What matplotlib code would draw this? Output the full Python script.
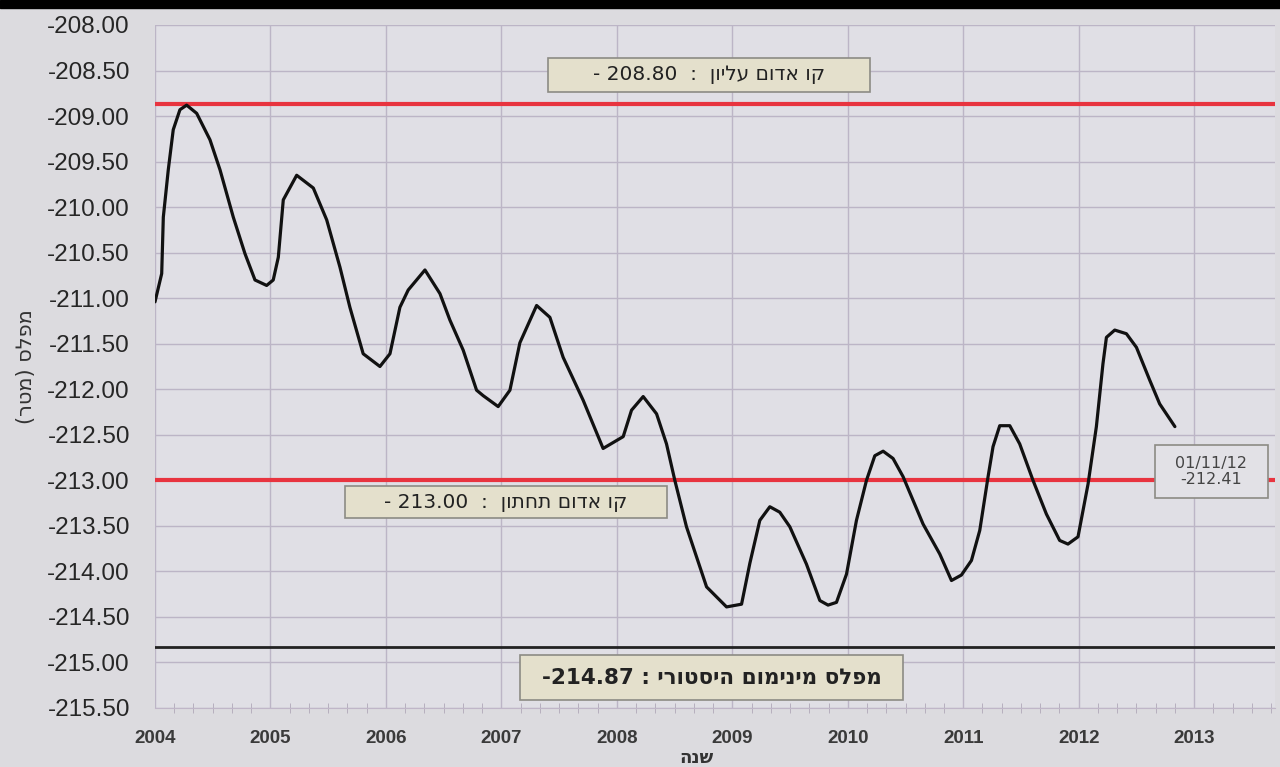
import numpy as np
import matplotlib
matplotlib.use('Agg')
import matplotlib.pyplot as plt
from matplotlib.patches import Rectangle
from matplotlib.ticker import MultipleLocator, FormatStrFormatter

# Kinneret level readings (decimal year, metres)
years = [2004.000, 2004.058, 2004.072, 2004.115, 2004.158, 2004.216, 2004.274,
         2004.361, 2004.476, 2004.563, 2004.678, 2004.779, 2004.866, 2004.967,
         2005.024, 2005.068, 2005.111, 2005.227, 2005.371, 2005.487, 2005.602,
         2005.688, 2005.803, 2005.948, 2006.035, 2006.121, 2006.193, 2006.338,
         2006.468, 2006.554, 2006.669, 2006.785, 2006.842, 2006.972, 2007.074,
         2007.160, 2007.305, 2007.420, 2007.535, 2007.708, 2007.881, 2008.055,
         2008.127, 2008.228, 2008.344, 2008.430, 2008.502, 2008.603, 2008.777,
         2008.950, 2009.080, 2009.152, 2009.238, 2009.325, 2009.411, 2009.498,
         2009.642, 2009.758, 2009.829, 2009.902, 2009.989, 2010.075, 2010.162,
         2010.234, 2010.306, 2010.392, 2010.479, 2010.652, 2010.797, 2010.898,
         2010.984, 2011.071, 2011.143, 2011.215, 2011.258, 2011.316, 2011.403,
         2011.489, 2011.604, 2011.720, 2011.835, 2011.907, 2011.994, 2012.081,
         2012.153, 2012.210, 2012.240, 2012.312, 2012.413, 2012.500, 2012.615,
         2012.701, 2012.833]
levels = [-211.04, -210.73, -210.11, -209.59, -209.15, -208.93, -208.88,
          -208.97, -209.26, -209.59, -210.11, -210.51, -210.80, -210.86,
          -210.80, -210.55, -209.92, -209.65, -209.79, -210.14, -210.66,
          -211.10, -211.61, -211.75, -211.61, -211.10, -210.91, -210.69,
          -210.95, -211.24, -211.57, -212.01, -212.07, -212.19, -212.01,
          -211.49, -211.08, -211.21, -211.65, -212.12, -212.65, -212.52,
          -212.23, -212.08, -212.27, -212.60, -213.00, -213.51, -214.17,
          -214.39, -214.36, -213.91, -213.44, -213.29, -213.35, -213.51,
          -213.92, -214.32, -214.37, -214.34, -214.03, -213.44, -213.00,
          -212.73, -212.68, -212.76, -212.96, -213.48, -213.81, -214.10,
          -214.04, -213.88, -213.55, -212.96, -212.63, -212.40, -212.40,
          -212.60, -213.00, -213.37, -213.66, -213.70, -213.62, -213.04,
          -212.41, -211.72, -211.43, -211.35, -211.39, -211.54, -211.90,
          -212.16, -212.41]

upper_red = -208.87
lower_red = -213.00
hist_min = -214.83

upper_text = 'קו אדום עליון'
upper_val = '- 208.80'
lower_text = 'קו אדום תחתון'
lower_val = '- 213.00'
min_text = 'מפלס מינימום היסטורי'
min_val = '-214.87'
last_date = '01/11/12'
last_val = '-212.41'
ylabel = 'מפלס (מטר)'
xlabel = 'שנה'

year_ticks = list(range(2004, 2014))


def rtl(s):
  # matplotlib has no bidi: flip to visual order, mirror brackets
  return s[::-1].translate(str.maketrans('()', ')('))


plt.rcParams['font.family'] = ['Liberation Sans', 'DejaVu Sans']
wide = ['DejaVu Sans']

fig = plt.figure(figsize=(12.8, 7.67), dpi=100)
fig.patch.set_facecolor('#dcdbdf')
fig.patches.append(Rectangle((0, 1 - 8/767.), 1, 8/767., transform=fig.transFigure,
                             color='black', zorder=10))

W, H = 1280., 767.
ax = fig.add_axes([155/W, 1 - 708/H, 1120/W, 683/H])
ax.set_facecolor('#e0dfe5')

ax.plot(years, levels, '-', color='#111111', lw=2.3, zorder=4,
        solid_joinstyle='round', solid_capstyle='round')
ax.axhline(upper_red, color='#e8343f', lw=3, zorder=3)
ax.axhline(lower_red, color='#e8343f', lw=3, zorder=3)
ax.axhline(hist_min, color='#222222', lw=2, zorder=3)

ax.set_xlim(2004, 2013.7)
ax.set_ylim(-215.5, -208)
ax.set_xticks(year_ticks)
ax.xaxis.set_minor_locator(MultipleLocator(1/6.))
ax.yaxis.set_major_locator(MultipleLocator(0.5))
ax.yaxis.set_major_formatter(FormatStrFormatter('%.2f'))
ax.grid(True, which='major', color='#bcb5c6', lw=1)

for s in ['top', 'right', 'left']:
  ax.spines[s].set_visible(False)
ax.spines['bottom'].set_color('#c0b6c8')

ax.tick_params(axis='y', length=0, pad=18, labelsize=17.5, labelcolor='#262626')
ax.tick_params(axis='x', which='major', length=0, pad=16, labelsize=13.5,
               labelcolor='#3a3a3a')
ax.tick_params(axis='x', which='minor', direction='inout', length=7,
               color='#b0a8b8')
for lab in ax.get_xticklabels():
  lab.set_fontweight('bold')

ax.set_ylabel(rtl(ylabel), fontsize=15, color='#333333', labelpad=8,
              family=wide)
fig.text(696/W, 1 - 758/H, rtl(xlabel), fontsize=13, fontweight='bold',
         color='#333333', ha='center', va='center', family=wide)


def box(x0, x1, y0, y1, text, fc, size, weight='normal', tc='#222222'):
  # positions in figure pixels (top-left origin)
  fx, fw = x0/W, (x1 - x0)/W
  fy, fh = 1 - y1/H, (y1 - y0)/H
  fig.patches.append(Rectangle((fx, fy), fw, fh, transform=fig.transFigure,
                               facecolor=fc, edgecolor='#8c8b84', lw=1.2,
                               zorder=6))
  fig.text(fx + fw/2, fy + fh/2, text, fontsize=size, fontweight=weight,
           color=tc, ha='center', va='center', zorder=7,
           linespacing=1.15, family=wide)


box(548, 870, 58, 92, upper_val + '  :  ' + rtl(upper_text), '#e4e0cc', 14.5)
box(345, 667, 486, 518, lower_val + '  :  ' + rtl(lower_text), '#e4e0cc', 14.5)
box(520, 903, 655, 700, min_val + ' : ' + rtl(min_text), '#e4e0cc', 15.5, 'bold')
box(1155, 1268, 445, 498, last_date + '\n' + last_val, '#e2e1e6', 11.5,
    tc='#444444')

plt.savefig('out.png', dpi=100, facecolor=fig.get_facecolor())
